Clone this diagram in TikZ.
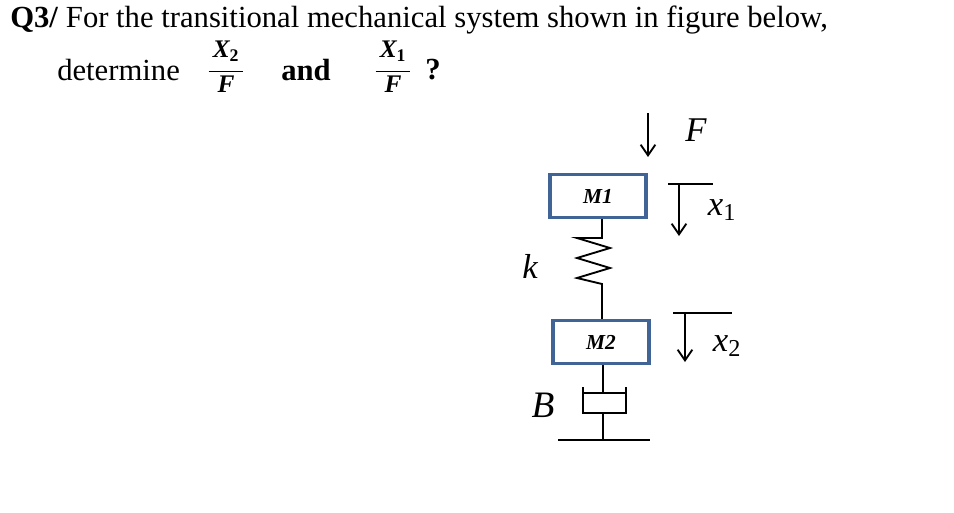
\documentclass[tikz,border=0pt]{standalone}
\usepackage{fontspec}
\setmainfont{Liberation Serif}
\usetikzlibrary{arrows.meta}
\definecolor{massblue}{RGB}{65,100,150}
\begin{document}
\begin{tikzpicture}[x=0.75pt,y=-0.75pt,
  mass/.style={draw=massblue,line width=2.6pt,minimum width=72pt,minimum height=32pt,inner sep=0pt,font=\bfseries\itshape\fontsize{16}{16}\selectfont},
  ln/.style={line width=1.4pt},
  arr/.style={line width=1.4pt,-{Straight Barb[length=8pt,width=11pt]}},
  lbl/.style={inner sep=0pt,font=\itshape\fontsize{26}{26}\selectfont}]
\useasboundingbox (0,0) rectangle (954,512);
\node[anchor=west,inner sep=0pt,font=\fontsize{23}{24}\selectfont] (title) at (10,20) {\textbf{Q3/} For the transitional mechanical system shown in figure below,};
\node[anchor=west,inner sep=0pt,font=\fontsize{23}{24}\selectfont] (det) at (57,70) {determine};
\node[inner sep=0pt,font=\bfseries\itshape\fontsize{19}{19}\selectfont] (f1) at (226,70) {$\vcenter{\hbox{\begin{tabular}{@{}c@{}}X\textsubscript{\upshape 2}\\[-8pt]\rule{26pt}{1.2pt}\\[-4pt]F\end{tabular}}}$};
\node[inner sep=0pt,font=\bfseries\fontsize{23}{24}\selectfont] (and) at (306,70) {and};
\node[inner sep=0pt,font=\bfseries\itshape\fontsize{19}{19}\selectfont] (f2) at (393,70) {$\vcenter{\hbox{\begin{tabular}{@{}c@{}}X\textsubscript{\upshape 1}\\[-8pt]\rule{26pt}{1.2pt}\\[-4pt]F\end{tabular}}}$};
\node[inner sep=0pt,font=\bfseries\fontsize{23}{24}\selectfont] (q) at (433,70) {?};

\node[mass] (m1) at (598,196) {M1};
\node[mass] (m2) at (601,342) {M2};
% force
\coordinate (ftop) at (648,113);
\draw[arr] (ftop) -- (648,157);
\node[lbl] (F) at (696,130) {F};
% spring
\coordinate (s0) at (602,222);
\draw[ln] (m1.south -| s0) -- (602,238) -- (577,238) -- (610,248) -- (577,258) -- (610,268) -- (577,278) -- (602,284) -- (m2.north -| s0);
\node[lbl] (k) at (530,266) {k};
% damper
\coordinate (d0) at (603,387);
\draw[ln] (m2.south -| d0) -- (603,393);
\draw[ln] (583,393) -- (626,393);
\draw[ln] (583,387) -- (583,413) -- (626,413) -- (626,387);
\coordinate (g) at (603,440);
\draw[ln] (603,413) -- (g);
\draw[ln] (558,440) -- (650,440);
\node[lbl,font=\itshape\fontsize{28}{28}\selectfont] (B) at (543,405) {B};
% displacements
\draw[ln] (668,184) -- (713,184);
\draw[arr] (679,184) -- (679,236);
\node[lbl] (x1) at (722,210) {x\textsubscript{\upshape 1}};
\draw[ln] (673,313) -- (732,313);
\draw[arr] (685,313) -- (685,362);
\node[lbl] (x2) at (727,346) {x\textsubscript{\upshape 2}};
\end{tikzpicture}
\end{document}
